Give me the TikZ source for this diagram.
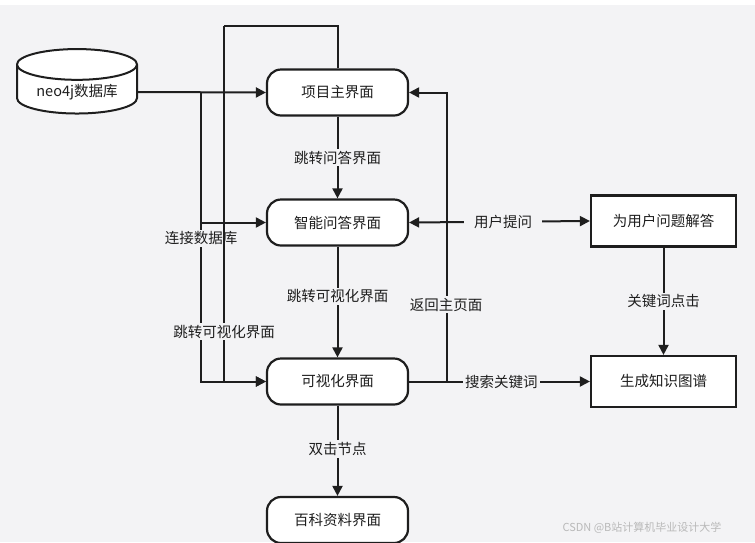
\documentclass[tikz,border=0pt]{standalone}
\usepackage{fontspec}
\setmainfont{Noto Sans CJK SC}
\usetikzlibrary{shapes.geometric,arrows.meta}
\definecolor{bg}{HTML}{F3F3F5}
\definecolor{ln}{HTML}{1E1E1E}
\begin{document}
\begin{tikzpicture}[x=1pt,y=-1pt,
  every node/.style={font=\fontsize{14.5}{16}\selectfont, text=ln},
  rbox/.style={draw=ln,line width=2.2pt,rounded corners=14pt,minimum width=141pt,minimum height=46pt,fill=white},
  sbox/.style={draw=ln,line width=2.2pt,minimum width=145pt,minimum height=51pt,fill=white},
  con/.style={draw=ln,line width=2pt,-{Triangle[length=10pt,width=10pt]}},
  pl/.style={draw=ln,line width=2pt},
  lab/.style={fill=bg,inner sep=2pt}]
\useasboundingbox (0,0) rectangle (755,542);
\fill[white] (0,0) rectangle (755,542);
\fill[bg] (0,5) rectangle (755,542);
\node[draw=ln,line width=2pt,fill=white,cylinder,shape border rotate=90,aspect=0.35,minimum width=120pt,minimum height=64pt] (db) at (77,92) {neo4j数据库};
\node[rbox] (main) at (337.5,92.5) {项目主界面};
\node[rbox] (qa) at (337.5,222.5) {智能问答界面};
\node[rbox] (vis) at (337.5,381.5) {可视化界面};
\node[rbox] (wiki) at (337.5,520) {百科资料界面};
\node[sbox] (ans) at (663.5,221) {为用户问题解答};
\node[sbox] (kg) at (663.5,381.5) {生成知识图谱};
\coordinate (b1) at (201,92.5);
\coordinate (b2) at (201,222.5);
\coordinate (t1) at (224,26);
% db links
\draw[con] (db.east) -- (main.west);
\draw[con] (b1) |- (qa.west);
\draw[con] (b2) |- node[lab,pos=0.05]{连接数据库} (vis.west);
% top loop
\draw[pl] (main.north) |- (t1);
\draw[con] (t1) -- node[lab,pos=0.86]{跳转可视化界面} (224,381.5) -- (vis.west);
% vertical
\draw[con] (main.south) -- node[lab]{跳转问答界面} (qa.north);
\draw[con] (qa.south) -- node[lab,pos=0.45]{跳转可视化界面} (vis.north);
\draw[con] (vis.south) -- node[lab,pos=0.48]{双击节点} (wiki.north);
% return
\draw[con] (vis.east) -| node[lab,pos=0.633,xshift=-1pt]{返回主页面} (447,92.5) -- (main.east);
\draw[con] (447,381.5) -- node[lab,pos=0.38]{搜索关键词} (kg.west);
\draw[draw=ln,line width=2pt,{Triangle[length=10pt,width=10pt]}-{Triangle[length=10pt,width=10pt]}] (qa.east) -- node[lab,pos=0.52,inner xsep=10pt]{用户提问} (ans.west);
\draw[con] (ans.south) -- node[lab]{关键词点击} (kg.north);
\node[text=gray!55,font=\fontsize{11}{12}\selectfont] (wm) at (642,528) {CSDN @B站计算机毕业设计大学};
\end{tikzpicture}
\end{document}
